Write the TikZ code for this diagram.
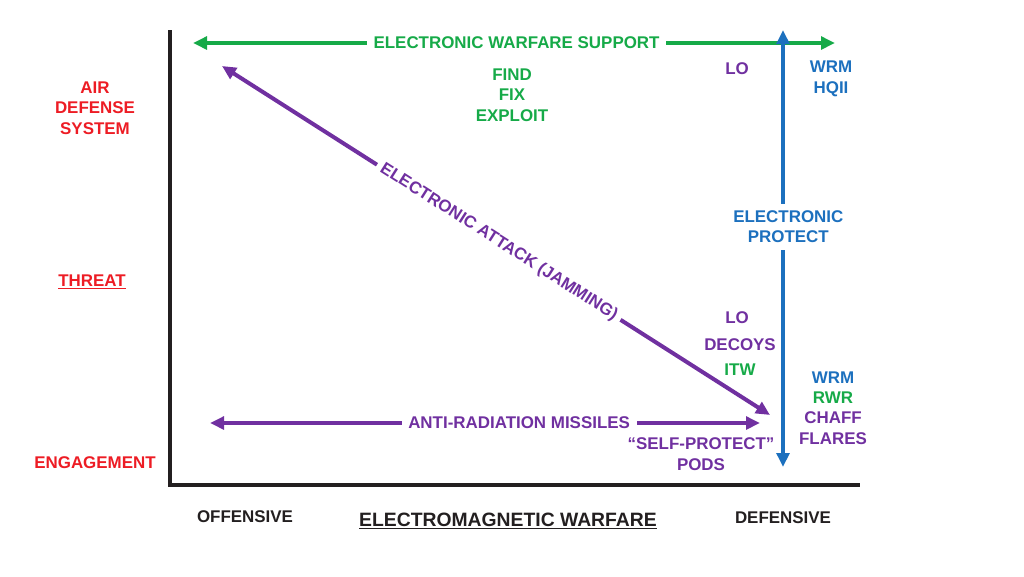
\documentclass[tikz,border=0pt]{standalone}
\usepackage{fontspec}
\setmainfont{Liberation Sans}
\usetikzlibrary{arrows.meta,positioning}
\definecolor{ewgreen}{RGB}{22,170,72}
\definecolor{ewpurple}{RGB}{112,48,160}
\definecolor{ewblue}{RGB}{28,112,190}
\definecolor{ewred}{RGB}{237,28,36}
\definecolor{ewblack}{RGB}{35,31,32}
\tikzset{
  lbl/.style={
    font = \fontsize{12.7}{15.4}\selectfont\bfseries,
    inner sep = 1pt,
    align = center
  },
  band/.style={
    line width = 3pt,
    >={Triangle[length=10.5pt,width=9.5pt]},
    <->
  },
  gap/.style={
    lbl,
    fill = white,
    inner sep = 5pt
  },
  axis/.style={
    line width = 3pt,
    ewblack
  }
}
\begin{document}
\begin{tikzpicture}[x=0.75pt,y=-0.75pt]
        \useasboundingbox (0,0) rectangle (1024,576);

        % axes
        \coordinate (ytop) at (170,30);
        \coordinate (xend) at (860,485);
        \draw[axis] (ytop) |- (xend);

        % electronic warfare support
        \coordinate (ewsL) at (193,43);
        \coordinate (ewsR) at (835,43);
        \draw[band, ewgreen] (ewsL) -- node[gap, text=ewgreen, pos=0.504] (ews) {ELECTRONIC WARFARE SUPPORT} (ewsR);

        % electronic protect
        \coordinate (epB) at (783,467);
        \coordinate (epT) at (783,30);
        \draw[band, ewblue] (epB) -- node[gap, text=ewblue, pos=0.55, xshift=4pt] (ep) {ELECTRONIC\\PROTECT} (epT);

        % electronic attack
        \coordinate (eaT) at (222,66);
        \coordinate (eaB) at (770,415);
        \draw[band, ewpurple] (eaT) -- node[gap, text=ewpurple, sloped, pos=0.505, inner sep=4pt] (ea) {ELECTRONIC ATTACK (JAMMING)} (eaB);

        % anti-radiation missiles
        \coordinate (armL) at (210,423);
        \coordinate (armR) at (760,423);
        \draw[band, ewpurple] (armL) -- node[gap, text=ewpurple, pos=0.562] (arm) {ANTI-RADIATION MISSILES} (armR);

        % left labels
        \node[lbl, text=ewred] (ads) at (95,108) {AIR\\DEFENSE\\SYSTEM};
        \node[lbl, text=ewred] (threat) at (92,282) {\underline{THREAT}};
        \node[lbl, text=ewred] (engage) at (95,463) {ENGAGEMENT};

        % top labels
        \node[lbl, text=ewgreen] (find) at (512,95) {FIND\\FIX\\EXPLOIT};
        \node[lbl, text=ewpurple] (loT) at (737,69) {LO};
        \node[lbl, text=ewblue] (wrmT) at (831,79) {WRM\\HQII};

        % bottom right labels
        \node[lbl, text=ewpurple] (loB) at (737,318) {LO};
        \node[lbl, text=ewpurple] (decoys) at (740,345) {DECOYS};
        \node[lbl, text=ewgreen] (itw) at (740,370) {ITW};
        \node[lbl, text=ewblue] (wrmB) at (833,378) {WRM};
        \node[lbl, text=ewgreen] (rwr) at (833,398) {RWR};
        \node[lbl, text=ewpurple] (chaff) at (833,428) {CHAFF\\FLARES};
        \node[lbl, text=ewpurple] (pods) at (701,454) {“SELF-PROTECT”\\PODS};

        % x labels
        \node[lbl, text=ewblack] (off) at (245,517) {OFFENSIVE};
        \node[lbl, text=ewblack, font=\fontsize{14.5}{17}\selectfont\bfseries] (emw) at (508,521) {\underline{ELECTROMAGNETIC WARFARE}};
        \node[lbl, text=ewblack] (def) at (783,518) {DEFENSIVE};
    \end{tikzpicture}
\end{document}
